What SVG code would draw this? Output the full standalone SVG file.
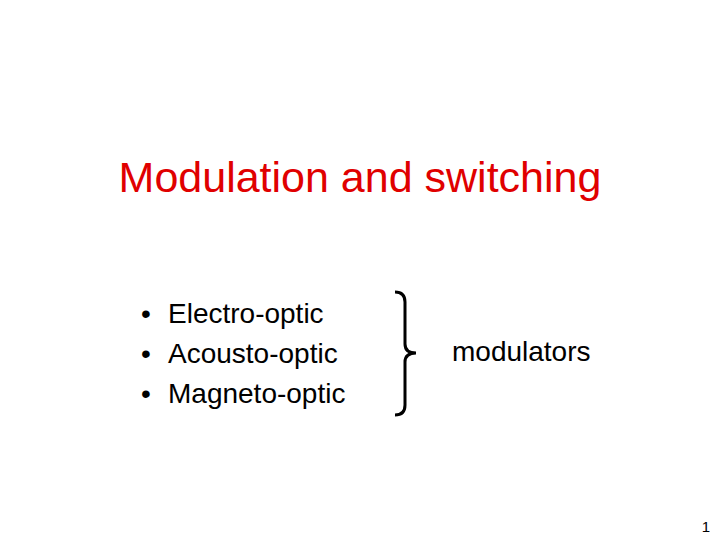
<svg xmlns="http://www.w3.org/2000/svg" width="720" height="540" viewBox="0 0 720 540">
<style>
text{font-family:"Liberation Sans",Arial,sans-serif}
.b{font-size:28px;fill:#000}
</style>
<rect width="720" height="540" fill="#fff"/>
<g id="title"><text x="360" y="192" text-anchor="middle" font-size="43" fill="#e00000">Modulation and switching</text></g>
<g id="list">
<text class="b" x="141" y="323">•</text><text class="b" x="168" y="323">Electro-optic</text>
<text class="b" x="141" y="363">•</text><text class="b" x="168" y="363">Acousto-optic</text>
<text class="b" x="141" y="403">•</text><text class="b" x="168" y="403">Magneto-optic</text>
</g>
<g id="brace"><path d="M395,292 Q405,292 405,302 L405,344 Q405,353 416,353 Q405,353 405,362 L405,405 Q405,415 395,415" fill="none" stroke="#000" stroke-width="3"/></g>
<g id="label"><text class="b" x="452" y="361">modulators</text></g>
<g id="page"><text x="710" y="532" text-anchor="end" font-size="15">1</text></g>
</svg>
